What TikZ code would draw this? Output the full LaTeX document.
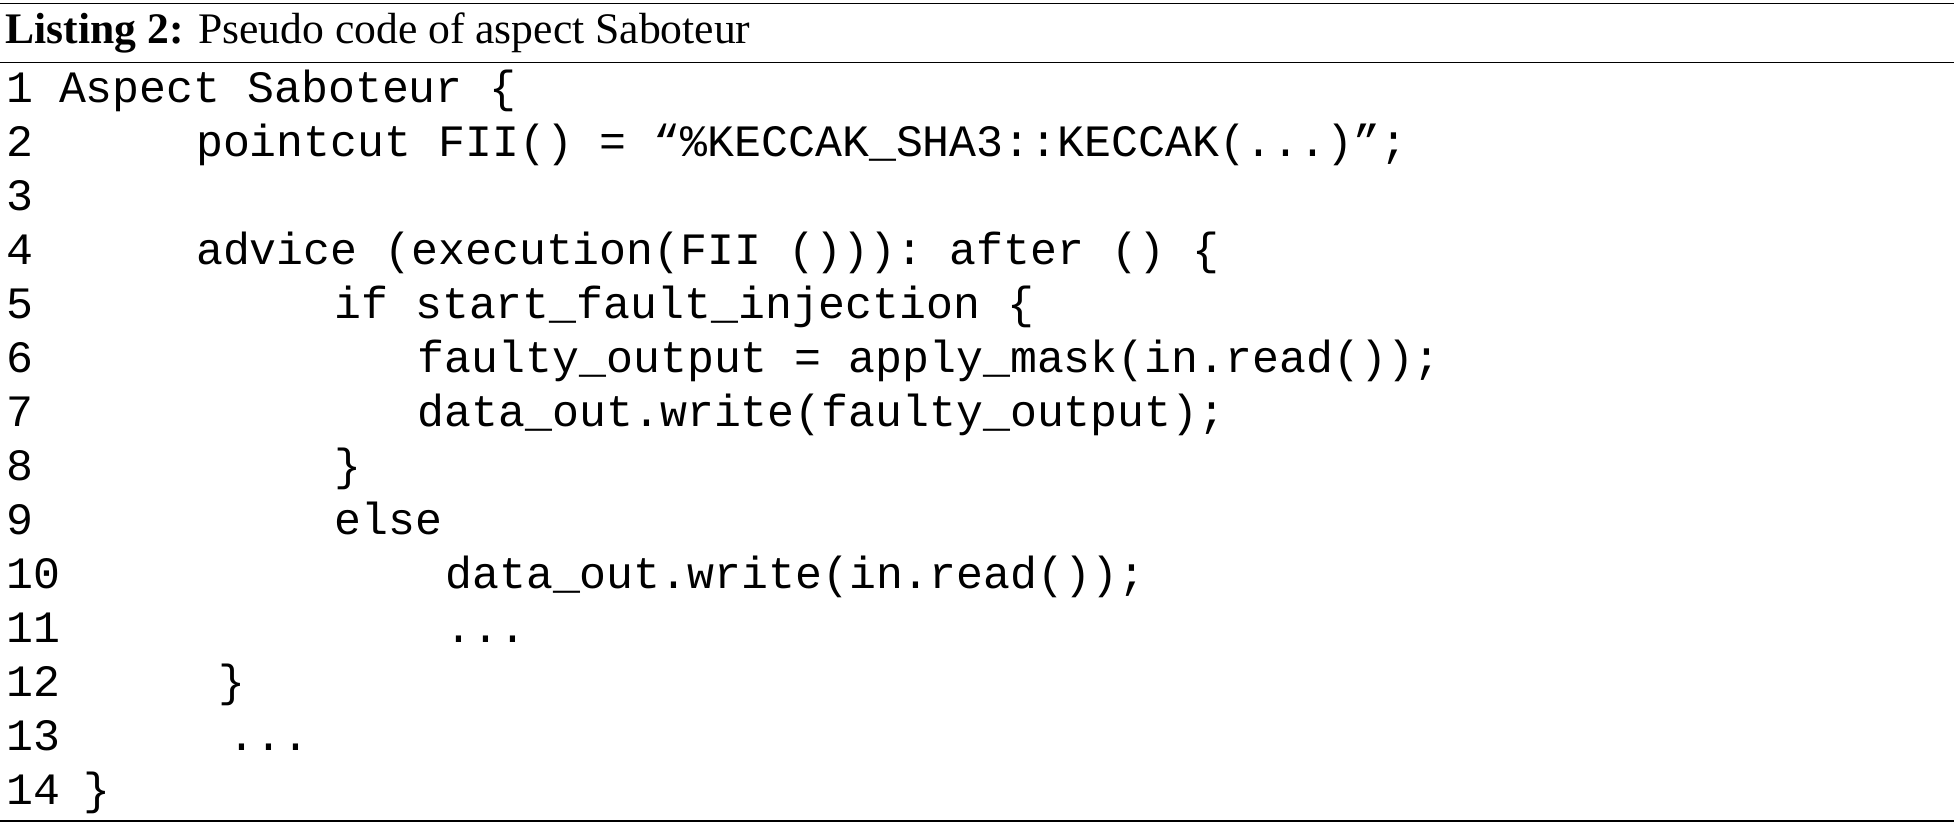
\documentclass[tikz,border=0pt]{standalone}
\usepackage{fontspec}
\setmainfont{Liberation Serif}
\setmonofont{Liberation Mono}
\begin{document}
\begin{tikzpicture}[x=0.5pt,y=-0.5pt,
  cl/.style={anchor=base west,inner sep=0pt,font=\fontsize{18}{20}\selectfont\ttfamily},
  rl/.style={line width=0.6pt}]
\useasboundingbox (0,0) rectangle (1568,665);
\draw[rl] (0,3) -- (1568,3);
\draw[rl] (0,50) -- (1568,50);
\draw[rl] (0,659) -- (1568,659);
\node[anchor=base west,inner sep=0pt,font=\fontsize{17.5}{20}\selectfont] (title) at (4,35) {\textbf{Listing 2:} Pseudo code of aspect Saboteur};
\foreach \i/\x/\t in {
 1/47/{Aspect Saboteur \{},
 2/157/{pointcut FII() = “\%KECCAK\_SHA3::KECCAK(...)”;},
 3/157/{},
 4/157/{advice (execution(FII ())): after () \{},
 5/268/{if start\_fault\_injection \{},
 6/335/{faulty\_output = apply\_mask(in.read());},
 7/335/{data\_out.write(faulty\_output);},
 8/268/{\}},
 9/268/{else},
 10/357/{data\_out.write(in.read());},
 11/357/{...},
 12/175/{\}},
 13/183/{...},
 14/67/{\}}}
{
 \node[cl] (n\i) at (5,{82+43.35*(\i-1)}) {\i};
 \node[cl] (c\i) at (\x,{82+43.35*(\i-1)}) {\t};
}
\end{tikzpicture}
\end{document}
